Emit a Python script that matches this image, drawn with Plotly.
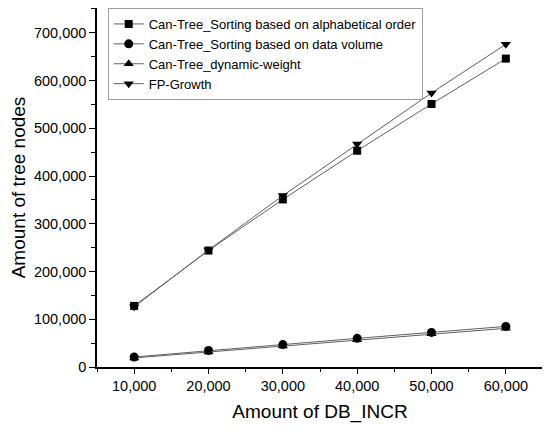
import plotly.graph_objects as go

x_vals = [10000, 20000, 30000, 40000, 50000, 60000]
alpha_order = [128000, 244000, 351000, 453000, 551000, 646000]
data_volume = [21000, 34500, 47000, 60000, 72500, 85000]
dynamic_weight = [19000, 31500, 44000, 57000, 69500, 81000]
fp_growth = [126000, 245000, 359000, 467000, 574000, 676000]

names = [
    "Can-Tree_Sorting based on alphabetical order",
    "Can-Tree_Sorting based on data volume",
    "Can-Tree_dynamic-weight",
    "FP-Growth",
]
series = [alpha_order, data_volume, dynamic_weight, fp_growth]
symbols = ["square", "circle", "triangle-up", "triangle-down"]
msizes = [8, 9, 9, 9]

fig = go.Figure()
for name, ys, sym, ms in zip(names, series, symbols, msizes):
    fig.add_trace(go.Scatter(
        x=x_vals, y=ys, name=name, mode="lines+markers",
        line=dict(color="#606060", width=1),
        marker=dict(symbol=sym, size=ms, color="black"),
    ))

font_family = "Liberation Sans, Arial, sans-serif"
fig.update_layout(
    width=542, height=431,
    margin=dict(l=89, r=7, t=0, b=72),
    paper_bgcolor="white", plot_bgcolor="white",
    font=dict(family=font_family, color="black"),
    showlegend=True,
    legend=dict(
        x=0.024, y=1.0, xanchor="left", yanchor="top",
        bordercolor="#a0a0a0", borderwidth=1, bgcolor="white",
        font=dict(size=13, family=font_family),
        itemwidth=30, tracegroupgap=0,
    ),
    xaxis=dict(
        range=[5000, 65000], showgrid=False, zeroline=False,
        showline=True, linecolor="black", linewidth=1.5,
        ticks="outside", ticklen=5, tickwidth=1.2, tickcolor="black",
        tickvals=x_vals, tickformat=",d",
        tickfont=dict(size=14.5, family=font_family),
        minor=dict(ticks="outside", ticklen=3, tickwidth=1.2, tickcolor="black", dtick=5000, tick0=5000),
        title=dict(text="Amount of DB_INCR", font=dict(size=19, family=font_family), standoff=12),
    ),
    yaxis=dict(
        range=[0, 752000], showgrid=False, zeroline=False,
        showline=True, linecolor="black", linewidth=1.5,
        ticks="outside", ticklen=6, tickwidth=1.2, tickcolor="black",
        dtick=100000, tick0=0, tickformat=",d",
        tickfont=dict(size=14.5, family=font_family),
        minor=dict(ticks="outside", ticklen=4, tickwidth=1.2, tickcolor="black", dtick=50000, tick0=0),
        title=dict(text="Amount of tree nodes", font=dict(size=19, family=font_family), standoff=4),
    ),
)

fig.write_html("out.html")
